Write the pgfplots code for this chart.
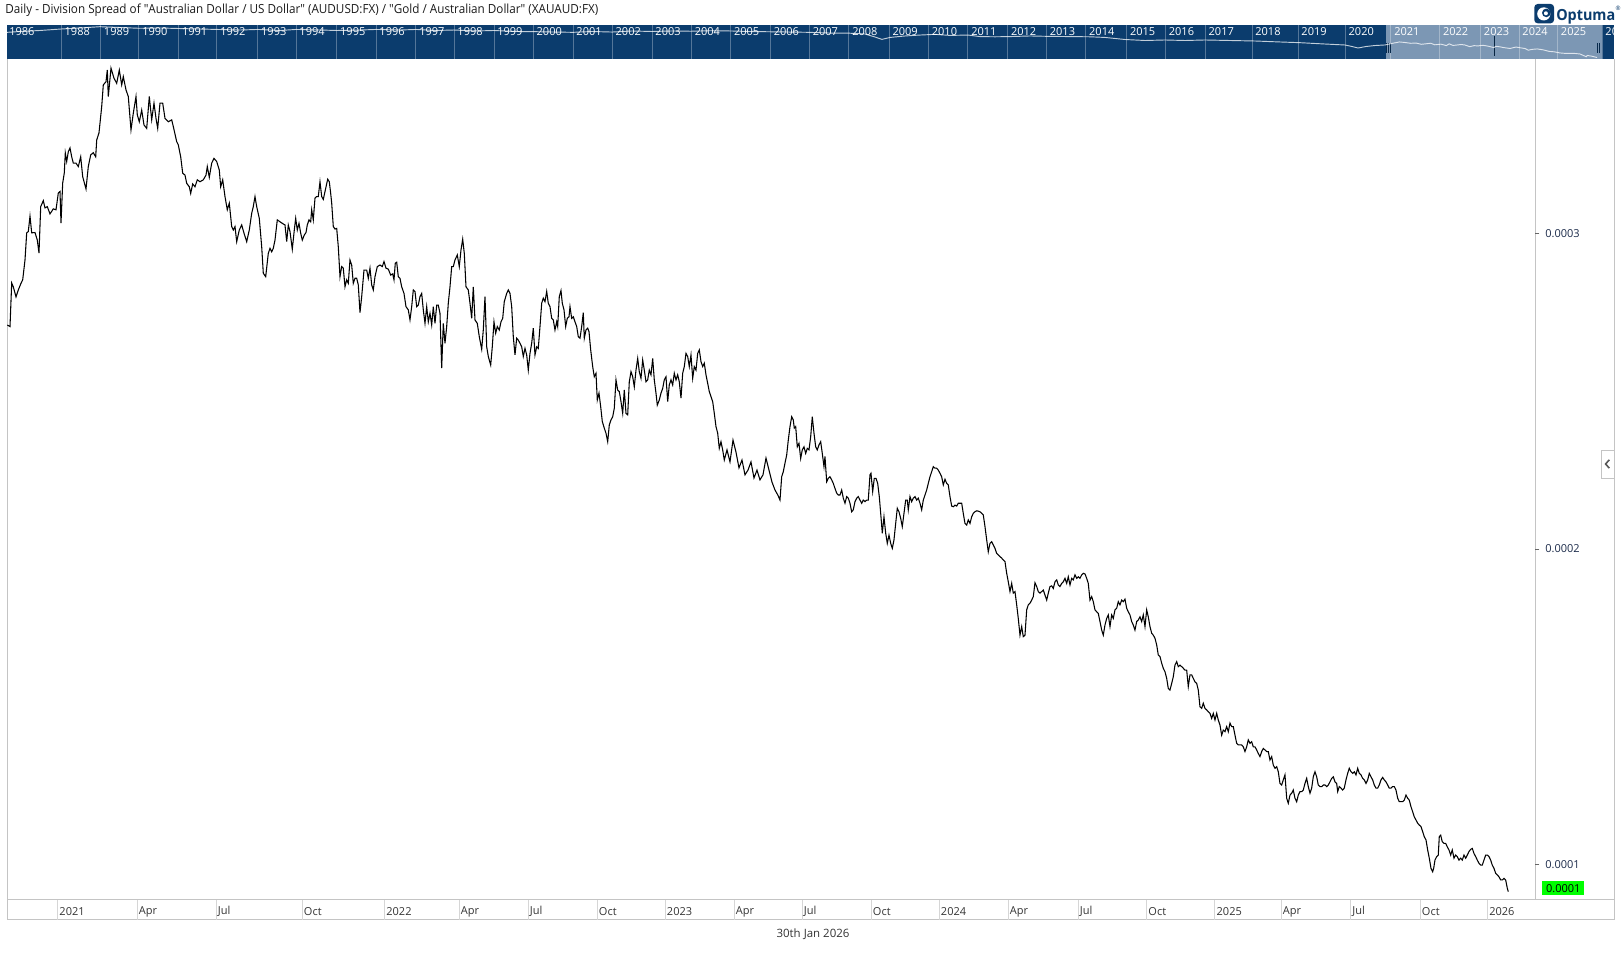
\documentclass[border=0pt]{standalone}
\usepackage{fontspec}
\setmainfont{Open Sans}
\usepackage{graphicx}
\usepackage{pgfplots}
\usepackage{pgfplotstable}
\pgfplotsset{compat=1.18}

\definecolor{navdark}{HTML}{0B3C6D}
\definecolor{navsel}{HTML}{7C97B4}
\definecolor{framegray}{HTML}{C4C4C4}
\definecolor{sepgray}{HTML}{D6D6D6}
\definecolor{ticktext}{HTML}{1C2B4A}
\definecolor{labeltext}{HTML}{333333}
\definecolor{titletext}{HTML}{1A1A1A}
\definecolor{lastgreen}{HTML}{00FF00}

\newcommand\fs[1]{\fontsize{#1}{#1}\selectfont}
\newcommand\fitw[2]{\sbox0{#2}\pgfmathsetmacro\fitratio{#1/\wd0}\scalebox{\fitratio}[1]{\usebox0}}
\newcommand\q{\textquotedbl}

% Navigator (long history overview)
\pgfplotstableread{
x v
7.2 8.1e-4
20 8.7e-4
40 9.5e-4
61 1.08e-3
80 1.18e-3
100 1.32e-3
120 1.23e-3
139 1.15e-3
160 1.18e-3
178 1.13e-3
200 1.08e-3
217 1.04e-3
240 9.9e-4
258 1.04e-3
280 9.5e-4
296 1.04e-3
320 9.9e-4
337 9.5e-4
360 9.9e-4
376 1.04e-3
400 9.9e-4
416 1.04e-3
435 9.5e-4
454 9.9e-4
475 9.1e-4
494 9.5e-4
515 8.7e-4
533 8.6e-4
555 8.3e-4
573 8.1e-4
592 8.7e-4
612 8.3e-4
632 9.1e-4
652 8.7e-4
672 9.1e-4
691 8.9e-4
710 9.3e-4
731 9.1e-4
750 8.7e-4
770 8.5e-4
790 8.3e-4
809 8.1e-4
830 7.6e-4
850 7.5e-4
865 7.0e-4
875 5.4e-4
882 4.4e-4
890 5.2e-4
905 5.9e-4
920 6.4e-4
935 6.8e-4
950 6.2e-4
968 6.4e-4
980 5.6e-4
995 5.5e-4
1010 5.6e-4
1030 5.9e-4
1050 5.7e-4
1070 5.6e-4
1090 5.5e-4
1105 5.2e-4
1125 4.35e-4
1145 3.99e-4
1165 4.17e-4
1185 3.99e-4
1205 4.17e-4
1230 3.99e-4
1255 3.82e-4
1280 3.51e-4
1300 3.30e-4
1325 2.94e-4
1345 2.70e-4
1352 2.37e-4
1358 2.08e-4
1366 2.37e-4
1375 2.58e-4
1385 2.71e-4
1392 3.1e-4
1399.5 3.52e-4
1405 3.35e-4
1410.8 3.13e-4
1416 3.2e-4
1421.4 2.87e-4
1426 3.0e-4
1430.6 3.15e-4
1434.8 2.75e-4
1441 2.9e-4
1446.3 2.57e-4
1449.2 2.98e-4
1453 2.6e-4
1457 2.7e-4
1461 2.82e-4
1465 2.7e-4
1469.7 2.34e-4
1474 2.55e-4
1478 2.5e-4
1482.9 2.63e-4
1488 2.45e-4
1493.9 2.16e-4
1495.9 2.42e-4
1500 2.3e-4
1504 2.15e-4
1510 2.0e-4
1516 2.26e-4
1521 2.1e-4
1525.2 1.98e-4
1528.3 1.72e-4
1532 1.85e-4
1537.2 1.92e-4
1543 1.78e-4
1549.2 1.55e-4
1554 1.5e-4
1559.8 1.36e-4
1566 1.30e-4
1574.6 1.30e-4
1580 1.24e-4
1586.2 0.977e-4
1587.3 1.09e-4
1592 1.02e-4
1597 0.914e-4
}\navdata

% Main series: AUDUSD / XAUAUD, daily (x = bar position)
\pgfplotstableread{
x v
7.3 2.710e-4
10 2.705e-4
11.7 2.843e-4
13.3 2.831e-4
16 2.799e-4
18.3 2.821e-4
20.7 2.840e-4
22.7 2.853e-4
25 2.916e-4
26.7 3.002e-4
28.3 3.006e-4
30 3.055e-4
31.7 3.002e-4
35 3.003e-4
37.3 2.979e-4
39 2.938e-4
40.7 3.085e-4
43.3 3.104e-4
45 3.081e-4
47.3 3.085e-4
50 3.062e-4
53.3 3.078e-4
56 3.075e-4
58.3 3.128e-4
60 3.133e-4
61 3.033e-4
62.7 3.160e-4
64.3 3.192e-4
65.3 3.255e-4
66.7 3.228e-4
68.3 3.259e-4
70 3.271e-4
71.7 3.243e-4
73.3 3.223e-4
76 3.223e-4
78.3 3.212e-4
80.7 3.243e-4
82.7 3.180e-4
86 3.141e-4
88.3 3.212e-4
90.7 3.249e-4
93.3 3.256e-4
95.7 3.243e-4
96.7 3.296e-4
99 3.319e-4
101.7 3.402e-4
103.3 3.471e-4
106 3.481e-4
107.3 3.518e-4
108.3 3.434e-4
111 3.524e-4
114 3.492e-4
116.7 3.476e-4
119.3 3.518e-4
121.7 3.471e-4
123.3 3.497e-4
126 3.455e-4
128.3 3.434e-4
131 3.328e-4
133.3 3.381e-4
136 3.434e-4
137.3 3.376e-4
139.3 3.354e-4
141.7 3.391e-4
144 3.344e-4
146.7 3.333e-4
149.3 3.434e-4
151.7 3.360e-4
154 3.413e-4
156 3.365e-4
157.7 3.333e-4
160 3.413e-4
162.7 3.413e-4
165 3.365e-4
168.3 3.354e-4
171.7 3.360e-4
173.3 3.339e-4
176.7 3.291e-4
178.3 3.281e-4
180.7 3.243e-4
182.7 3.191e-4
185 3.185e-4
186.7 3.159e-4
189.3 3.148e-4
190.7 3.127e-4
192.7 3.157e-4
195 3.148e-4
197.3 3.170e-4
200 3.164e-4
203.3 3.170e-4
206 3.185e-4
207.3 3.212e-4
209.3 3.178e-4
211.7 3.223e-4
214 3.238e-4
216.7 3.228e-4
219.3 3.201e-4
220.7 3.148e-4
222.7 3.170e-4
225 3.117e-4
227.3 3.075e-4
229.3 3.096e-4
231.7 3.022e-4
233.3 3.011e-4
235 3.022e-4
236.7 2.974e-4
239.3 3.011e-4
241.7 3.027e-4
244 3.001e-4
246.7 2.974e-4
249.3 3.011e-4
251.7 3.064e-4
253.3 3.085e-4
255 3.117e-4
256.7 3.085e-4
259.3 3.048e-4
261.7 2.958e-4
263.3 2.874e-4
265.7 2.863e-4
268.3 2.937e-4
270 2.953e-4
271.7 2.942e-4
273.3 2.953e-4
275 2.979e-4
277.3 3.043e-4
280 3.037e-4
283.3 3.030e-4
285 3.027e-4
286.7 2.974e-4
288.3 3.027e-4
290 3.006e-4
292.3 2.950e-4
294.3 3.011e-4
295.7 3.048e-4
297.3 3.011e-4
299 3.032e-4
300.7 3.001e-4
302.3 2.979e-4
304.3 2.995e-4
306 3.003e-4
307.3 3.027e-4
309 3.043e-4
310.7 3.037e-4
311.7 3.075e-4
313.3 3.043e-4
315 3.112e-4
316.7 3.117e-4
318.3 3.117e-4
320 3.164e-4
321.7 3.117e-4
323.3 3.108e-4
325.7 3.143e-4
327.7 3.172e-4
329.3 3.164e-4
330.7 3.127e-4
331.7 3.096e-4
333.3 3.022e-4
335 3.014e-4
336.7 3.016e-4
338.3 2.958e-4
340 2.863e-4
341.7 2.895e-4
343.3 2.890e-4
345 2.831e-4
346.7 2.853e-4
348.3 2.842e-4
350 2.916e-4
351.7 2.900e-4
353.3 2.842e-4
355 2.858e-4
356.7 2.858e-4
358.3 2.837e-4
360 2.749e-4
361.7 2.800e-4
364 2.884e-4
366.7 2.884e-4
368.3 2.858e-4
370 2.890e-4
371.7 2.837e-4
373.3 2.821e-4
375 2.863e-4
377.3 2.895e-4
380 2.900e-4
382.3 2.895e-4
384 2.911e-4
386 2.890e-4
388.3 2.887e-4
390.7 2.868e-4
392.7 2.872e-4
394 2.853e-4
395.3 2.906e-4
396.7 2.909e-4
398.3 2.863e-4
400 2.858e-4
401.7 2.831e-4
404 2.810e-4
406 2.768e-4
408.3 2.758e-4
410 2.726e-4
411.7 2.768e-4
413.3 2.821e-4
415 2.816e-4
416.7 2.768e-4
418.3 2.773e-4
420 2.800e-4
421.7 2.810e-4
423.3 2.758e-4
425 2.715e-4
426.7 2.768e-4
428.3 2.720e-4
430 2.747e-4
431.7 2.710e-4
433.3 2.768e-4
435 2.715e-4
436.7 2.773e-4
438.3 2.773e-4
440 2.747e-4
441.7 2.573e-4
443.3 2.715e-4
445 2.652e-4
446.7 2.705e-4
448.3 2.779e-4
450 2.831e-4
451.7 2.895e-4
453.3 2.895e-4
455 2.916e-4
457.3 2.932e-4
459.3 2.895e-4
461 2.948e-4
462.7 2.982e-4
464.3 2.937e-4
466 2.831e-4
468.3 2.821e-4
470 2.779e-4
471.7 2.731e-4
473.3 2.831e-4
475 2.726e-4
477.3 2.715e-4
479.3 2.673e-4
481.7 2.633e-4
483.3 2.694e-4
485 2.800e-4
486.7 2.641e-4
488.3 2.610e-4
490.7 2.583e-4
492.3 2.641e-4
494 2.720e-4
495.7 2.684e-4
497.3 2.705e-4
499.3 2.694e-4
501 2.720e-4
502.7 2.731e-4
504.3 2.784e-4
506.7 2.810e-4
508.3 2.821e-4
510 2.810e-4
511.7 2.768e-4
513.3 2.673e-4
515 2.615e-4
516.7 2.668e-4
518.3 2.662e-4
520 2.652e-4
521.7 2.641e-4
523.3 2.610e-4
525 2.636e-4
526.7 2.615e-4
528.3 2.567e-4
530 2.620e-4
531.7 2.652e-4
533.3 2.700e-4
535 2.615e-4
536.7 2.641e-4
538.3 2.636e-4
540 2.705e-4
541.7 2.779e-4
543.3 2.795e-4
545 2.784e-4
546.7 2.816e-4
548.3 2.779e-4
550 2.768e-4
551.7 2.731e-4
553.3 2.726e-4
555 2.694e-4
556.7 2.720e-4
557.7 2.705e-4
559.3 2.800e-4
561 2.819e-4
562.3 2.779e-4
564 2.758e-4
565.7 2.705e-4
567.3 2.731e-4
569 2.736e-4
570 2.768e-4
571.7 2.731e-4
573.3 2.736e-4
575 2.720e-4
576.7 2.705e-4
578.3 2.673e-4
580 2.668e-4
581.7 2.705e-4
583.3 2.749e-4
584.3 2.668e-4
586 2.694e-4
587.7 2.700e-4
589 2.689e-4
590.7 2.631e-4
592.7 2.578e-4
594.3 2.546e-4
596 2.557e-4
597.3 2.472e-4
599 2.494e-4
600.7 2.451e-4
602.3 2.404e-4
604.3 2.383e-4
606 2.367e-4
607.7 2.340e-4
609.3 2.393e-4
611 2.409e-4
612.7 2.419e-4
614.3 2.446e-4
616 2.536e-4
617.7 2.504e-4
619.3 2.499e-4
621 2.467e-4
622.7 2.430e-4
624.3 2.504e-4
626 2.430e-4
627.7 2.425e-4
629.3 2.530e-4
631 2.562e-4
632.7 2.546e-4
634.3 2.514e-4
636 2.567e-4
637.7 2.604e-4
639.3 2.562e-4
641 2.541e-4
642.7 2.599e-4
644.3 2.567e-4
646 2.530e-4
647.7 2.536e-4
649.3 2.567e-4
651 2.552e-4
652.7 2.604e-4
654.3 2.536e-4
656 2.494e-4
657.3 2.456e-4
659.3 2.472e-4
661 2.494e-4
662.7 2.509e-4
664.3 2.536e-4
666 2.546e-4
667.7 2.467e-4
669.3 2.520e-4
671 2.536e-4
672.7 2.520e-4
674.3 2.557e-4
676 2.536e-4
677.7 2.552e-4
679.3 2.530e-4
681 2.478e-4
682.7 2.557e-4
684.3 2.578e-4
686 2.620e-4
687.7 2.610e-4
689.3 2.578e-4
691 2.615e-4
692.7 2.541e-4
694.3 2.578e-4
696 2.567e-4
697.7 2.620e-4
699.3 2.631e-4
701 2.594e-4
702.7 2.578e-4
704.3 2.589e-4
706 2.552e-4
707.7 2.525e-4
709.3 2.499e-4
711 2.483e-4
712.7 2.467e-4
714.3 2.430e-4
716 2.388e-4
717.7 2.367e-4
719.3 2.319e-4
721 2.340e-4
722.7 2.314e-4
724.3 2.282e-4
727 2.314e-4
730 2.276e-4
733 2.345e-4
736 2.307e-4
739 2.257e-4
742 2.282e-4
745 2.235e-4
748 2.250e-4
751 2.276e-4
754 2.225e-4
757 2.250e-4
760 2.219e-4
763 2.235e-4
766 2.288e-4
769 2.250e-4
772 2.212e-4
775 2.187e-4
778 2.170e-4
780 2.155e-4
781.7 2.229e-4
783.3 2.245e-4
785 2.272e-4
786.7 2.298e-4
788.3 2.345e-4
790 2.388e-4
791.7 2.419e-4
793.3 2.409e-4
794.3 2.383e-4
795.7 2.388e-4
797.3 2.324e-4
799 2.335e-4
800.7 2.287e-4
802.3 2.314e-4
804 2.324e-4
805.7 2.303e-4
807.3 2.319e-4
809 2.314e-4
810.7 2.356e-4
812.3 2.419e-4
814 2.367e-4
815.7 2.324e-4
817.3 2.314e-4
819 2.330e-4
820.7 2.340e-4
822.3 2.303e-4
824 2.261e-4
825 2.293e-4
826.7 2.213e-4
828.3 2.224e-4
830 2.229e-4
831.7 2.219e-4
833.3 2.208e-4
835 2.192e-4
836.7 2.177e-4
838.3 2.171e-4
840 2.171e-4
841.7 2.187e-4
843.3 2.161e-4
845 2.145e-4
846.7 2.166e-4
848.3 2.161e-4
850 2.145e-4
851.7 2.118e-4
853.3 2.124e-4
855 2.150e-4
856.7 2.161e-4
858.3 2.166e-4
860 2.155e-4
861.7 2.145e-4
863.3 2.155e-4
865 2.150e-4
866.7 2.155e-4
868.3 2.155e-4
870 2.235e-4
871 2.240e-4
872.7 2.182e-4
874.3 2.224e-4
876 2.224e-4
877.7 2.208e-4
879.3 2.166e-4
881 2.102e-4
882.3 2.050e-4
884 2.102e-4
885.7 2.050e-4
887.3 2.018e-4
889 2.044e-4
890.7 2.018e-4
892.3 2.002e-4
894 2.029e-4
895.7 2.081e-4
897.3 2.129e-4
899 2.118e-4
900.7 2.097e-4
902.3 2.071e-4
904 2.113e-4
905.7 2.155e-4
907.3 2.155e-4
908.3 2.124e-4
910 2.166e-4
911.7 2.150e-4
913.3 2.161e-4
915 2.166e-4
916.7 2.155e-4
918.3 2.161e-4
920 2.145e-4
921.7 2.124e-4
923.3 2.155e-4
925 2.171e-4
926.7 2.187e-4
928.3 2.208e-4
930 2.229e-4
931.7 2.245e-4
933.3 2.261e-4
935 2.256e-4
936.7 2.256e-4
938.3 2.250e-4
940 2.240e-4
941.7 2.229e-4
943.3 2.203e-4
945 2.221e-4
946.7 2.208e-4
948.3 2.203e-4
950 2.166e-4
951.7 2.136e-4
953.3 2.134e-4
955 2.139e-4
956.7 2.136e-4
958.3 2.145e-4
960 2.145e-4
961.7 2.145e-4
963.3 2.113e-4
965 2.081e-4
966.7 2.076e-4
968.3 2.092e-4
970 2.081e-4
971.7 2.102e-4
973.3 2.113e-4
975 2.118e-4
976.7 2.121e-4
978.3 2.120e-4
980 2.118e-4
981.7 2.113e-4
983.3 2.108e-4
985 2.071e-4
986.7 2.029e-4
988.3 1.991e-4
990 2.018e-4
991.7 2.023e-4
993.3 2.013e-4
995 2.002e-4
996.7 1.986e-4
998.3 1.981e-4
1000 1.976e-4
1001.7 1.971e-4
1003.3 1.965e-4
1005 1.960e-4
1006.7 1.923e-4
1008.3 1.896e-4
1010 1.865e-4
1011.7 1.891e-4
1013.3 1.860e-4
1015 1.865e-4
1016.7 1.823e-4
1018.3 1.780e-4
1020 1.727e-4
1021.7 1.754e-4
1023.3 1.722e-4
1025 1.727e-4
1026.7 1.807e-4
1028.3 1.823e-4
1030 1.828e-4
1031.7 1.838e-4
1033.3 1.849e-4
1035 1.893e-4
1036.7 1.881e-4
1038.3 1.865e-4
1040 1.860e-4
1041.7 1.865e-4
1043.3 1.870e-4
1045 1.854e-4
1046.7 1.838e-4
1048.3 1.860e-4
1050 1.881e-4
1051.7 1.883e-4
1053.3 1.875e-4
1055 1.896e-4
1056.7 1.902e-4
1058.3 1.886e-4
1060 1.881e-4
1061.7 1.891e-4
1063.3 1.896e-4
1065 1.907e-4
1066.7 1.891e-4
1068.3 1.912e-4
1070 1.886e-4
1071.7 1.907e-4
1073.3 1.902e-4
1075 1.918e-4
1076.7 1.907e-4
1078.3 1.912e-4
1080 1.907e-4
1081.7 1.918e-4
1083.3 1.923e-4
1085 1.921e-4
1086.7 1.907e-4
1088.3 1.891e-4
1090 1.838e-4
1091.7 1.849e-4
1093.3 1.833e-4
1095 1.807e-4
1096.7 1.801e-4
1098.3 1.796e-4
1100 1.770e-4
1101.7 1.743e-4
1103.3 1.727e-4
1105 1.759e-4
1106.7 1.780e-4
1108.3 1.791e-4
1110 1.754e-4
1111.7 1.791e-4
1113.3 1.780e-4
1115 1.807e-4
1116.7 1.812e-4
1118.3 1.833e-4
1120 1.823e-4
1121.7 1.838e-4
1123.3 1.833e-4
1125 1.841e-4
1126.7 1.812e-4
1128.3 1.801e-4
1130 1.791e-4
1131.7 1.770e-4
1133.3 1.759e-4
1135 1.743e-4
1136.7 1.770e-4
1138.3 1.775e-4
1140 1.785e-4
1141.7 1.770e-4
1143.3 1.791e-4
1145 1.754e-4
1146.7 1.807e-4
1148.3 1.785e-4
1150 1.754e-4
1151.7 1.733e-4
1153.3 1.727e-4
1155 1.717e-4
1156.7 1.696e-4
1158.3 1.664e-4
1160 1.659e-4
1161.7 1.638e-4
1163.3 1.622e-4
1165 1.611e-4
1166.7 1.590e-4
1168.3 1.558e-4
1170 1.553e-4
1171.7 1.574e-4
1173.3 1.595e-4
1175 1.632e-4
1176.7 1.643e-4
1178.3 1.627e-4
1180 1.632e-4
1181.7 1.627e-4
1183.3 1.622e-4
1185 1.616e-4
1186.7 1.616e-4
1188.3 1.564e-4
1190 1.601e-4
1191.7 1.601e-4
1193.3 1.590e-4
1195 1.579e-4
1196.7 1.574e-4
1198.3 1.553e-4
1200 1.500e-4
1201.7 1.495e-4
1203.3 1.511e-4
1205 1.495e-4
1206.7 1.490e-4
1208.3 1.484e-4
1210 1.479e-4
1211.7 1.463e-4
1213.3 1.479e-4
1215 1.458e-4
1216.7 1.479e-4
1218.3 1.458e-4
1220 1.442e-4
1221.7 1.410e-4
1223.3 1.426e-4
1225 1.421e-4
1226.7 1.437e-4
1228.3 1.421e-4
1230 1.448e-4
1231.7 1.437e-4
1233.3 1.437e-4
1235 1.410e-4
1236.7 1.384e-4
1238.3 1.379e-4
1240 1.379e-4
1241.7 1.379e-4
1243.3 1.373e-4
1245 1.358e-4
1246.7 1.373e-4
1248.3 1.395e-4
1250 1.384e-4
1251.7 1.389e-4
1253.3 1.373e-4
1255 1.373e-4
1256.7 1.363e-4
1258.3 1.352e-4
1260 1.342e-4
1261.7 1.358e-4
1263.3 1.368e-4
1265 1.363e-4
1266.7 1.358e-4
1268.3 1.358e-4
1270 1.331e-4
1271.7 1.342e-4
1273.3 1.315e-4
1275 1.305e-4
1276.7 1.310e-4
1278.3 1.294e-4
1280 1.257e-4
1281.7 1.252e-4
1283.3 1.268e-4
1285 1.284e-4
1286.7 1.210e-4
1288.3 1.194e-4
1290 1.220e-4
1291.7 1.226e-4
1293.3 1.236e-4
1295 1.210e-4
1296.7 1.199e-4
1298.3 1.220e-4
1300 1.231e-4
1301.7 1.231e-4
1303.3 1.236e-4
1305 1.257e-4
1306.7 1.273e-4
1308.3 1.247e-4
1310 1.226e-4
1311.7 1.242e-4
1313.3 1.278e-4
1315 1.294e-4
1316.7 1.278e-4
1318.3 1.252e-4
1320 1.247e-4
1321.7 1.247e-4
1323.3 1.252e-4
1325 1.252e-4
1326.7 1.247e-4
1328.3 1.252e-4
1330 1.262e-4
1331.7 1.273e-4
1333.3 1.278e-4
1335 1.262e-4
1336.7 1.257e-4
1337.7 1.231e-4
1339.3 1.247e-4
1341 1.242e-4
1342.7 1.236e-4
1344.3 1.242e-4
1346 1.268e-4
1347.7 1.289e-4
1349.3 1.305e-4
1351 1.294e-4
1352.7 1.289e-4
1354.3 1.294e-4
1356 1.284e-4
1357.7 1.305e-4
1359.3 1.289e-4
1361 1.284e-4
1362.7 1.273e-4
1364.3 1.268e-4
1366 1.257e-4
1367.7 1.268e-4
1369.3 1.289e-4
1371 1.278e-4
1372.7 1.268e-4
1374.3 1.252e-4
1376 1.242e-4
1377.7 1.242e-4
1379.3 1.252e-4
1381 1.268e-4
1382.7 1.276e-4
1384.3 1.268e-4
1386 1.262e-4
1387.7 1.252e-4
1389.3 1.242e-4
1391 1.242e-4
1392.7 1.247e-4
1394.3 1.247e-4
1396 1.236e-4
1397.7 1.210e-4
1399.3 1.199e-4
1401 1.199e-4
1402.7 1.199e-4
1404.3 1.204e-4
1406 1.220e-4
1407.7 1.210e-4
1409.3 1.204e-4
1411 1.183e-4
1412.7 1.167e-4
1414.3 1.151e-4
1416 1.141e-4
1417.7 1.131e-4
1419.3 1.125e-4
1421 1.120e-4
1422.7 1.104e-4
1424.3 1.088e-4
1426 1.078e-4
1427.7 1.046e-4
1429.3 1.020e-4
1431 0.988e-4
1432.7 0.977e-4
1433.7 0.988e-4
1435 1.014e-4
1436.7 1.025e-4
1438.3 1.030e-4
1439.3 1.088e-4
1440.7 1.093e-4
1442.3 1.072e-4
1444 1.067e-4
1445.7 1.067e-4
1447.3 1.056e-4
1449 1.046e-4
1450.7 1.030e-4
1452.3 1.046e-4
1454 1.020e-4
1455.7 1.030e-4
1457.3 1.025e-4
1459 1.014e-4
1460.7 1.020e-4
1462.3 1.014e-4
1464 1.030e-4
1465.7 1.020e-4
1467.3 1.030e-4
1469 1.041e-4
1470.7 1.048e-4
1472.3 1.051e-4
1474 1.035e-4
1475.7 1.025e-4
1477.3 1.014e-4
1479 1.004e-4
1480.7 0.998e-4
1482.3 0.998e-4
1484 1.014e-4
1485.7 1.030e-4
1487.3 1.030e-4
1489 1.025e-4
1490.7 1.014e-4
1492.3 0.998e-4
1494 0.988e-4
1495.7 0.972e-4
1497.3 0.967e-4
1499 0.961e-4
1500.7 0.951e-4
1502.3 0.951e-4
1504 0.956e-4
1505.7 0.951e-4
1507.3 0.925e-4
1508.3 0.914e-4
}\maindata

\begin{document}
\begin{tikzpicture}
\path[use as bounding box] (0,0) rectangle (1216.5pt,714.75pt);

% ---------- frame, title, navigator background (pixel coordinates, y downward)
\begin{scope}[shift={(0pt,714.75pt)}, x=0.75pt, y=-0.75pt]
  \node[anchor=base west, inner sep=0pt, text=titletext] at (5.2,13.5)
    {\fitw{444.6pt}{\fs{9.4pt}Daily - Division Spread of \q Australian Dollar / US Dollar\q{} (AUDUSD:FX) / \q Gold / Australian Dollar\q{} (XAUAUD:FX)}};

  % navigator band
  \fill[navdark] (7.2,24.8) rectangle (1614,59);
  \fill[navsel] (1385.5,24.8) rectangle (1602,59);
  \begin{scope}
    \clip (7.2,24.8) rectangle (1614,59);
    \node[anchor=base west, inner sep=0pt, text=white, font=\fs{8.25pt}] at (9,35.8) {1986};
    \foreach \xx/\yr in {61.2/1988,100.5/1989,138.8/1990,178.6/1991,216.8/1992,257.7/1993,296/1994,336.7/1995,376/1996,415.8/1997,454/1998,493.9/1999,533.2/2000,573/2001,612.2/2002,652/2003,691.3/2004,730.6/2005,770.4/2006,809.4/2007,848.8/2008,889.1/2009,928.4/2010,967.8/2011,1007.6/2012,1046.4/2013,1085.7/2014,1126.6/2015,1165.4/2016,1205.2/2017,1251.9/2018,1298/2019,1345.2/2020,1390.8/2021,1439.6/2022,1480.5/2023,1519/2024,1557.5/2025,1602/2026}{
      \draw[white, opacity=0.3, line width=0.6pt] (\xx,24.8) -- (\xx,59);
      \node[anchor=base west, inner sep=0pt, text=white, font=\fs{8.25pt}] at (\xx+3.2,35.8) {\yr};
    }
    \foreach \xx in {1386.3,1388.3,1390.3,1597.5,1599.5}{
      \draw[navdark!70!black, line width=0.5pt] (\xx,43) -- (\xx,53);
    }
    \draw[navdark!60!black, line width=0.6pt] (1494,36) -- (1494,56);
  \end{scope}

  % logo
  \fill[navdark, rounded corners=2.5] (1534.3,4) rectangle (1554,23.3);
  \fill[white] (1543.8,13.9) circle (6.6);
  \fill[navdark] (1546.3,12.9) circle (4.3);
  \fill[white] (1545.9,13.3) circle (2.0);
  \node[anchor=base west, inner sep=0pt, text=navdark] at (1556,20.5)
    {\fitw{44.25pt}{\fs{11.5pt}\bfseries Optuma}};
  \node[anchor=base west, inner sep=0pt, text=navdark, font=\fs{4.5pt}] at (1615.3,11) {\textregistered};

  % frame lines
  \draw[framegray, line width=0.75pt] (7.2,59) -- (7.2,920);
  \draw[framegray, line width=0.75pt] (1535.5,59) -- (1535.5,900);
  \draw[framegray, line width=0.75pt] (1614,59) -- (1614,920);
  \draw[framegray, line width=0.75pt] (7.2,900) -- (1614,900);
  \draw[framegray, line width=0.75pt] (7.2,920) -- (1614,920);
  \foreach \xx in {57.5,137,216,302,384.4,459,528,597,665,734,802,871,939,1008,1078,1146.5,1214.7,1281,1350.5,1420,1487.3}{
    \draw[sepgray, line width=0.75pt] (\xx,900) -- (\xx,920);
  }
  % side tab
  \filldraw[fill=white, draw=framegray, line width=0.6pt] (1614,450) -- (1601.5,450) -- (1601.5,478) -- (1614,478);
  \draw[black!65, line width=1.2pt] (1609.3,459.8) -- (1605.6,464) -- (1609.3,468.2);

  \node[font=\fs{8.6pt}, text=labeltext, inner sep=0pt] at (813,934) {30th Jan 2026};
\end{scope}

% ---------- navigator overview line
\begin{axis}[at={(5.4pt,670.5pt)}, anchor=south west, scale only axis,
  width=1205.1pt, height=25.65pt, xmin=7.2, xmax=1614,
  ymode=log, ymin=0.803e-4, ymax=1.557e-3, hide axis]
  \addplot[white, opacity=0.75, line width=0.7pt] table[x=x, y=v] {\navdata};
\end{axis}

% ---------- main chart
\begin{axis}[at={(5.4pt,39.75pt)}, anchor=south west, scale only axis,
  width=1146.225pt, height=630.75pt,
  xmin=7.2, xmax=1535.5, ymin=0.8875e-4, ymax=3.553e-4,
  axis line style={draw=none}, clip mode=individual,
  xtick={57.5,137,216,302,384.4,459,528,597,665,734,802,871,939,1008,1078,1146.5,1214.7,1281,1350.5,1420,1487.3},
  xticklabels={2021,Apr,Jul,Oct,2022,Apr,Jul,Oct,2023,Apr,Jul,Oct,2024,Apr,Jul,Oct,2025,Apr,Jul,Oct,2026},
  xtick style={draw=none},
  xticklabel style={anchor=west, inner sep=0pt, xshift=1.3pt, yshift=-5.7pt, font=\fs{8.25pt}, text=labeltext},
  ytick={1e-4,2e-4,3e-4}, yticklabels={0.0001,0.0002,0.0003},
  scaled y ticks=false, ytick pos=right, yticklabel pos=right,
  tick align=outside, major tick length=3pt,
  ytick style={draw=black!60, line width=0.6pt},
  yticklabel style={anchor=west, inner sep=0pt, xshift=4.2pt, font=\fs{8.25pt}, text=ticktext},
]
  \addplot[black, line width=0.8pt] table[x=x, y=v] {\maindata};
  \node[fill=lastgreen, anchor=west, inner sep=0pt, minimum width=31.5pt, minimum height=10.5pt,
        font=\fs{8.25pt}, text=black] at (axis cs:1542,0.925e-4) {0.0001};
\end{axis}
\end{tikzpicture}
\end{document}
